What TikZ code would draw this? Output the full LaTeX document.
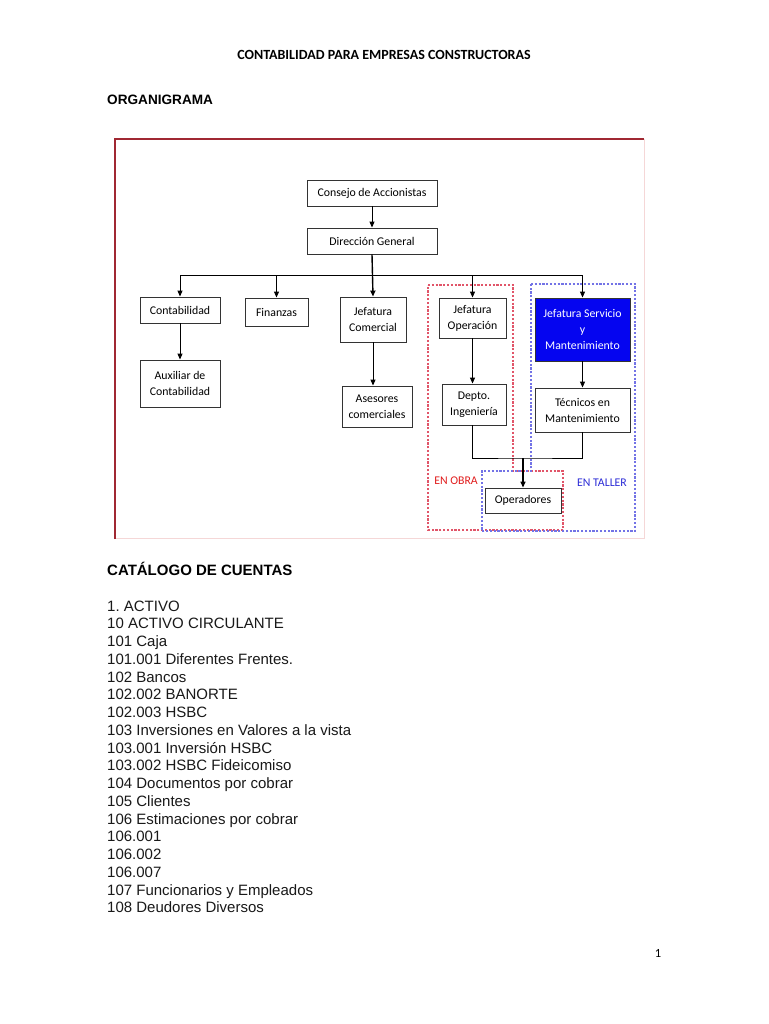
\documentclass[tikz,border=0pt]{standalone}
\usepackage{fontspec}
\setmainfont{Liberation Sans}
\newfontfamily\carl{Carlito}
\usetikzlibrary{arrows.meta}
\frenchspacing
\definecolor{framered}{RGB}{160,40,50}
\definecolor{framepink}{RGB}{245,215,215}
\definecolor{obrared}{RGB}{225,85,105}
\definecolor{tallerblue}{RGB}{115,115,230}
\definecolor{boxblue}{RGB}{5,5,240}
\definecolor{lblred}{RGB}{225,30,30}
\definecolor{lblblue}{RGB}{45,45,215}
\tikzset{
  orgbox/.style={draw=black!80, line width=0.9pt, inner sep=0pt, align=center,
    text=black, font=\carl\fontsize{11.8}{16}\selectfont},
  conn/.style={line width=1pt, -{Triangle[length=6pt,width=5pt]}},
  plain/.style={line width=1pt},
  obra/.style={draw=obrared, line width=1.3pt, dash pattern=on 2.2pt off 1.6pt},
  taller/.style={draw=tallerblue, line width=1.3pt, dash pattern=on 2.2pt off 1.6pt},
  listtext/.style={anchor=base west, inner sep=0pt, font=\fontsize{15}{17.76}\selectfont, text=black!90},
}
\begin{document}
\begin{tikzpicture}[x=1pt,y=-1pt]
\useasboundingbox[fill=white] (0,0) rectangle (768,1024);

% header
\node[anchor=base, inner sep=0pt, font=\carl\bfseries\fontsize{14}{16}\selectfont] (hdr) at (384,60) {CONTABILIDAD PARA EMPRESAS CONSTRUCTORAS};
\node[anchor=base west, inner sep=0pt, font=\bfseries\fontsize{13.6}{16}\selectfont] (org) at (107,105) {ORGANIGRAMA};

% outer frame
\draw[framepink, line width=1pt] (644,139) -- (644,538) -- (115,538);
\draw[framered, line width=1.6pt] (115,539) -- (115,139) -- (644,139);

% dashed regions
\draw[obra] (428,285) -- (513,285) -- (513,471) -- (563,471) -- (563,530) -- (428,530) -- cycle;
\draw[taller] (531,284) -- (635,284) -- (635,531) -- (482,531) -- (482,471) -- (531,471) -- cycle;

% boxes
\node[orgbox, minimum width=130pt, minimum height=26pt] (cons) at (372,193) {Consejo de Accionistas};
\node[orgbox, minimum width=130pt, minimum height=26pt] (dir) at (372,241) {Dirección General};
\node[orgbox, minimum width=80pt, minimum height=26pt] (cont) at (180,310) {Contabilidad};
\node[orgbox, minimum width=63pt, minimum height=28pt] (fin) at (276.5,312) {Finanzas};
\node[orgbox, minimum width=66pt, minimum height=45pt] (jcom) at (373,319.5) {Jefatura\\Comercial};
\node[orgbox, minimum width=67pt, minimum height=40pt] (jop) at (472.5,318) {Jefatura\\Operación};
\node[orgbox, fill=boxblue, text=white, minimum width=95pt, minimum height=63pt] (jser) at (582.5,329.5) {Jefatura Servicio\\y\\Mantenimiento};
\node[orgbox, minimum width=80pt, minimum height=47pt] (aux) at (180,383.5) {Auxiliar de\\Contabilidad};
\node[orgbox, minimum width=70pt, minimum height=41pt] (ases) at (377,406.5) {Asesores\\comerciales};
\node[orgbox, minimum width=64pt, minimum height=41pt] (dep) at (474,404.5) {Depto.\\Ingeniería};
\node[orgbox, minimum width=95pt, minimum height=44pt] (tec) at (582.5,410) {Técnicos en\\Mantenimiento};
\node[orgbox, minimum width=76pt, minimum height=25pt] (op) at (523,500.5) {Operadores};

% labels
\node[inner sep=0pt, text=lblred, font=\carl\fontsize{11.8}{14}\selectfont] (lobra) at (456,481) {EN OBRA};
\node[inner sep=0pt, text=lblblue, font=\carl\fontsize{11.8}{14}\selectfont] (ltaller) at (602,483) {EN TALLER};

% connectors
\coordinate (bus) at (373,275);
\coordinate (join) at (523,458);
\draw[conn] (cons.south) -- (dir.north);
\draw[conn, line width=1.4pt] (dir.south) -- (jcom.north);
\draw[conn] (bus) -| (cont.north);
\draw[conn] (bus) -| (fin.north);
\draw[conn] (bus) -| (jop.north);
\draw[conn] (bus) -| (jser.north);
\draw[conn] (cont.south) -- (aux.north);
\draw[conn] (jcom.south) -- (jcom.south |- ases.north);
\draw[conn] (jop.south) -- (jop.south |- dep.north);
\draw[conn] (jser.south) -- (tec.north);
\draw[plain, line width=0.9pt] (jop.south |- dep.south) |- (join) -| (tec.south);
\draw[conn, line width=1.4pt] (join) -- (op.north);

% catalogue
\node[anchor=base west, inner sep=0pt, font=\bfseries\fontsize{15}{18}\selectfont] (cat) at (107,575) {CATÁLOGO DE CUENTAS};
\foreach \t [count=\i] in {1. ACTIVO, 10 ACTIVO CIRCULANTE, 101 Caja, 101.001 Diferentes Frentes., 102 Bancos, 102.002 BANORTE, 102.003 HSBC, 103 Inversiones en Valores a la vista, 103.001 Inversión HSBC, 103.002 HSBC Fideicomiso, 104 Documentos por cobrar, 105 Clientes, 106 Estimaciones por cobrar, 106.001, 106.002, 106.007, 107 Funcionarios y Empleados, 108 Deudores Diversos}
  \node[listtext] (l\i) at (107,{611+(\i-1)*17.76}) {\t};

% page number
\node[anchor=base, inner sep=0pt, font=\carl\fontsize{12.5}{14}\selectfont] (pg) at (658,957) {1};
\end{tikzpicture}
\end{document}
